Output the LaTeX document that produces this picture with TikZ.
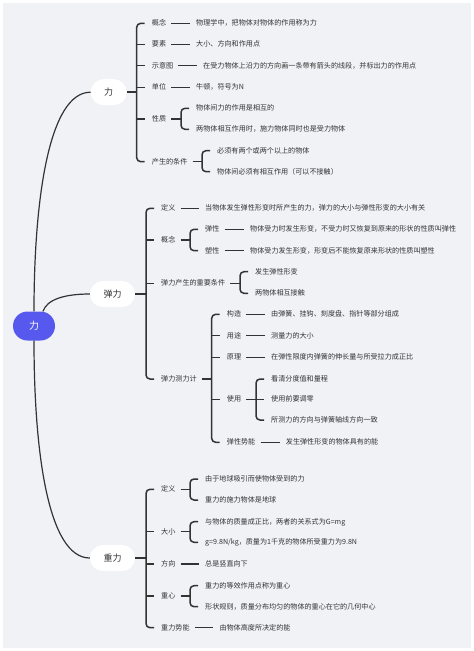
\documentclass[tikz,border=0pt]{standalone}
\usepackage{fontspec}
\setmainfont{Noto Sans CJK SC}
\usetikzlibrary{calc,shapes.misc}
\definecolor{bgc}{HTML}{F1F2F6}
\definecolor{linec}{HTML}{333333}
\definecolor{txt}{HTML}{333333}
\definecolor{rootc}{HTML}{5759EE}
\tikzset{
 conn/.style={draw=linec, line width=1.5pt},
 rootconn/.style={draw=linec, line width=1.2pt},
 lbl/.style={anchor=west, inner sep=0pt, text=txt, font=\fontsize{7.1}{8.5}\selectfont, text height=6.2pt, text depth=0.9pt},
 pill/.style={rounded rectangle, fill=white, minimum height=26pt, inner sep=0pt, text=txt, font=\fontsize{9}{10}\selectfont},
 rootnode/.style={rounded rectangle, fill=rootc, minimum width=42pt, minimum height=29pt, inner sep=0pt, text=white, font=\fontsize{10}{12}\selectfont}
}
\newcommand\mmbrk[3]{%
  \coordinate (#1-bx) at ($(#2.west)+(-15,0)$);
  \draw[conn, rounded corners=4pt] ($(#2.west)+(-7,0)$) -- (#1-bx) |- ($(#3.west)+(-7,0)$);
}
\newcommand\mmpar[2]{\draw[conn] ($(#1.east)+(#2,0)$) -- (#1.east -| #1-bx);}
\newcommand\mmstub[2]{\draw[conn] (#1-bx |- #2.west) -- ($(#2.west)+(-7,0)$);}
\newcommand\mmdash[2]{\draw[conn] ($(#1.east)+(5,0)$) -- ($(#2.west)+(-6,0)$);}
\begin{document}
\begin{tikzpicture}[x=1pt,y=-1pt]
\fill[white] (0,0) rectangle (474,651);
\fill[bgc] (3,3) rectangle (471,648);
\useasboundingbox (0,0) rectangle (474,651);

% root and level 1
\node[rootnode] (root) at (34,326) {力};
\node[pill, minimum width=36pt] (f) at (108.7,92.2) {力};
\node[pill, minimum width=45pt] (t) at (112.5,294) {弹力};
\node[pill, minimum width=45pt] (g) at (112.5,558) {重力};

\draw[rootconn] (root.north) .. controls +(0,-110) and +(-42,0) .. (f.west);
\draw[rootconn] (root.south) .. controls +(0,110) and +(-42,0) .. (g.west);
\draw[rootconn] ($(root.north)+(9,0)$) .. controls +(4,-12) and +(-25,0) .. (t.west);

% group 力
\node[lbl] (f1) at (151.7,23.3) {概念};
\node[lbl] (f1l) at (196,23.3) {物理学中，把物体对物体的作用称为力};
\node[lbl] (f2) at (151.7,44.3) {要素};
\node[lbl] (f2l) at (196,44.3) {大小、方向和作用点};
\node[lbl] (f3) at (151.7,65.7) {示意图};
\node[lbl] (f3l) at (203,65.7) {在受力物体上沿力的方向画一条带有箭头的线段，并标出力的作用点};
\node[lbl] (f4) at (151.7,87.3) {单位};
\node[lbl] (f4l) at (196,87.3) {牛顿，符号为N};
\node[lbl] (f5) at (151.7,119) {性质};
\node[lbl] (f5a) at (196,108.3) {物体间力的作用是相互的};
\node[lbl] (f5b) at (196,129.3) {两物体相互作用时，施力物体同时也是受力物体};
\node[lbl] (f6) at (151.7,161.7) {产生的条件};
\node[lbl] (f6a) at (217,150.7) {必须有两个或两个以上的物体};
\node[lbl] (f6b) at (217,171.7) {物体间必须有相互作用（可以不接触）};

\mmbrk{f}{f1}{f6} \mmpar{f}{0}
\mmstub{f}{f2} \mmstub{f}{f3} \mmstub{f}{f4} \mmstub{f}{f5}
\mmdash{f1}{f1l} \mmdash{f2}{f2l} \mmdash{f3}{f3l} \mmdash{f4}{f4l}
\mmbrk{f5}{f5a}{f5b} \mmpar{f5}{5}
\mmbrk{f6}{f6a}{f6b} \mmpar{f6}{5}

% group 弹力
\node[lbl] (t1) at (161,208.3) {定义};
\node[lbl] (t1l) at (205,208.3) {当物体发生弹性形变时所产生的力，弹力的大小与弹性形变的大小有关};
\node[lbl] (t2) at (161,240) {概念};
\node[lbl] (t2a) at (205,229.3) {弹性};
\node[lbl] (t2al) at (250,229.3) {物体受力时发生形变，不受力时又恢复到原来的形状的性质叫弹性};
\node[lbl] (t2b) at (205,250.7) {塑性};
\node[lbl] (t2bl) at (250,250.7) {物体受力发生形变，形变后不能恢复原来形状的性质叫塑性};
\node[lbl] (t3) at (161,283.3) {弹力产生的重要条件};
\node[lbl] (t3a) at (255,271.7) {发生弹性形变};
\node[lbl] (t3b) at (255,293.3) {两物体相互接触};
\node[lbl] (t4) at (161,379) {弹力测力计};
\node[lbl] (t4a) at (226.7,314.3) {构造};
\node[lbl] (t4al) at (271,314.3) {由弹簧、挂钩、刻度盘、指针等部分组成};
\node[lbl] (t4b) at (226.7,335.7) {用途};
\node[lbl] (t4bl) at (271,335.7) {测量力的大小};
\node[lbl] (t4c) at (226.7,357.3) {原理};
\node[lbl] (t4cl) at (271,357.3) {在弹性限度内弹簧的伸长量与所受拉力成正比};
\node[lbl] (t4d) at (226.7,399.3) {使用};
\node[lbl] (t4d1) at (271,379) {看清分度值和量程};
\node[lbl] (t4d2) at (271,399.3) {使用前要调零};
\node[lbl] (t4d3) at (271,420) {所测力的方向与弹簧轴线方向一致};
\node[lbl] (t4e) at (226.7,442.3) {弹性势能};
\node[lbl] (t4el) at (285.7,442.3) {发生弹性形变的物体具有的能};

\mmbrk{t}{t1}{t4} \mmpar{t}{0}
\mmstub{t}{t2} \mmstub{t}{t3}
\mmdash{t1}{t1l}
\mmbrk{t2}{t2a}{t2b} \mmpar{t2}{5}
\mmdash{t2a}{t2al} \mmdash{t2b}{t2bl}
\mmbrk{t3}{t3a}{t3b} \mmpar{t3}{5}
\mmbrk{t4}{t4a}{t4e} \mmpar{t4}{5}
\mmstub{t4}{t4b} \mmstub{t4}{t4c} \mmstub{t4}{t4d}
\mmdash{t4a}{t4al} \mmdash{t4b}{t4bl} \mmdash{t4c}{t4cl} \mmdash{t4e}{t4el}
\mmbrk{t4d}{t4d1}{t4d3} \mmpar{t4d}{5}
\mmstub{t4d}{t4d2}

% group 重力
\node[lbl] (g1) at (161,489.3) {定义};
\node[lbl] (g1a) at (205,479) {由于地球吸引而使物体受到的力};
\node[lbl] (g1b) at (205,500) {重力的施力物体是地球};
\node[lbl] (g2) at (161,531.7) {大小};
\node[lbl] (g2a) at (205,521.7) {与物体的质量成正比，两者的关系式为G=mg};
\node[lbl] (g2b) at (205,542.3) {g=9.8N/kg，质量为1千克的物体所受重力为9.8N};
\node[lbl] (g3) at (161,564) {方向};
\node[lbl] (g3l) at (205,564) {总是竖直向下};
\node[lbl] (g4) at (161,596) {重心};
\node[lbl] (g4a) at (205,585.7) {重力的等效作用点称为重心};
\node[lbl] (g4b) at (205,606.7) {形状规则，质量分布均匀的物体的重心在它的几何中心};
\node[lbl] (g5) at (161,627.7) {重力势能};
\node[lbl] (g5l) at (219.3,627.7) {由物体高度所决定的能};

\mmbrk{g}{g1}{g5} \mmpar{g}{0}
\mmstub{g}{g2} \mmstub{g}{g3} \mmstub{g}{g4}
\mmbrk{g1}{g1a}{g1b} \mmpar{g1}{5}
\mmbrk{g2}{g2a}{g2b} \mmpar{g2}{5}
\mmdash{g3}{g3l}
\mmbrk{g4}{g4a}{g4b} \mmpar{g4}{5}
\mmdash{g5}{g5l}
\end{tikzpicture}
\end{document}
